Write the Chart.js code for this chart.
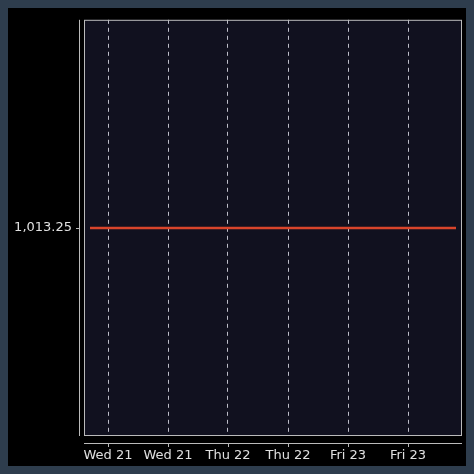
<!DOCTYPE html>
<html>
<head>
<script src="https://cdn.jsdelivr.net/npm/chart.js@4"></script>
<style>
  html, body { margin: 0; padding: 0; background: #2e3d4d; }
  #wrap { position: absolute; left: 8px; top: 8px; width: 458px; height: 458px; background: #000; }
</style>
</head>
<body>
<div id="wrap"><canvas id="myChart" width="458" height="458"></canvas></div>
<script>
const TICK_POS = [0, 1, 2, 3, 4, 5];
const TICK_LABELS = ['Wed 21', 'Wed 21', 'Thu 22', 'Thu 22', 'Fri 23', 'Fri 23'];
const TIMES = [-0.3, 0, 0.5, 1, 1.5, 2, 2.5, 3, 3.5, 4, 4.5, 5, 5.5, 5.8];
const PRESSURE = [1013.25, 1013.25, 1013.25, 1013.25, 1013.25, 1013.25, 1013.25, 1013.25, 1013.25, 1013.25, 1013.25, 1013.25, 1013.25, 1013.25];
const Y_TICK = 1013.25;

const points = TIMES.map((t, i) => ({ x: t, y: PRESSURE[i] }));

const frame = {
    id: 'frame',
    beforeDraw(chart) {
        const { ctx, chartArea: a } = chart;
        ctx.save();
        ctx.fillStyle = '#11111f';
        ctx.fillRect(a.left, a.top, a.right - a.left, a.bottom - a.top);
        ctx.restore();
    },
    afterDraw(chart) {
        const { ctx, chartArea: a, scales } = chart;
        ctx.save();
        ctx.strokeStyle = '#bbbbbb';
        ctx.lineWidth = 1;
        ctx.strokeRect(a.left + 0.5, a.top + 0.5, a.right - a.left - 1, a.bottom - a.top - 1);
        ctx.beginPath();
        ctx.moveTo(a.left - 4.5, a.top); ctx.lineTo(a.left - 4.5, a.bottom);
        ctx.moveTo(a.left, a.bottom + 7.5); ctx.lineTo(a.right, a.bottom + 7.5);
        TICK_POS.forEach(p => {
            const x = Math.round(scales.x.getPixelForValue(p)) + 0.5;
            ctx.moveTo(x, a.bottom + 7.5); ctx.lineTo(x, a.bottom + 11);
        });
        const y = Math.round(scales.y.getPixelForValue(Y_TICK)) + 0.5;
        ctx.moveTo(a.left - 8, y); ctx.lineTo(a.left - 4.5, y);
        ctx.stroke();
        ctx.restore();
    }
};

new Chart(document.getElementById('myChart').getContext('2d'),
{
    type: 'line',
    data:
    {
        datasets:
        [{
            data: points,
            borderColor: '#d9452b',
            borderWidth: 2.5,
            pointRadius: 0,
            tension: 0
        },
        {
            data: points,
            borderColor: 'rgba(170,170,200,0.8)',
            borderWidth: 1,
            borderDash: [2, 3],
            pointRadius: 0,
            tension: 0
        }]
    },
    options:
    {
        responsive: false,
        animation: false,
        layout: { padding: { top: -5, right: 4, left: 0, bottom: 0 } },
        plugins: { legend: { display: false }, tooltip: { enabled: false } },
        scales:
        {
            x:
            {
                type: 'linear',
                min: -0.4,
                max: 5.9,
                afterBuildTicks: s => { s.ticks = TICK_POS.map(v => ({ value: v })); },
                afterFit: s => { s.height = 30; },
                ticks: {
                    color: '#e0e0e0',
                    font: { family: 'DejaVu Sans', size: 13 },
                    padding: 12,
                    maxRotation: 0,
                    autoSkip: false,
                    callback: v => TICK_LABELS[TICK_POS.indexOf(v)]
                },
                border: { display: false, dash: [4, 4] },
                grid: { color: 'rgba(220,220,230,0.85)', lineWidth: 1, drawTicks: false }
            },
            y:
            {
                min: 1013.25 - 0.06,
                max: 1013.25 + 0.06,
                afterBuildTicks: s => { s.ticks = [{ value: Y_TICK }]; },
                afterFit: s => { s.width = 76; },
                ticks: {
                    color: '#e0e0e0',
                    font: { family: 'DejaVu Sans', size: 13 },
                    padding: 4,
                    callback: v => v.toLocaleString('en-US', { minimumFractionDigits: 2 })
                },
                border: { display: false },
                grid: { display: false }
            }
        }
    },
    plugins: [frame]
});
</script>
</body>
</html>
